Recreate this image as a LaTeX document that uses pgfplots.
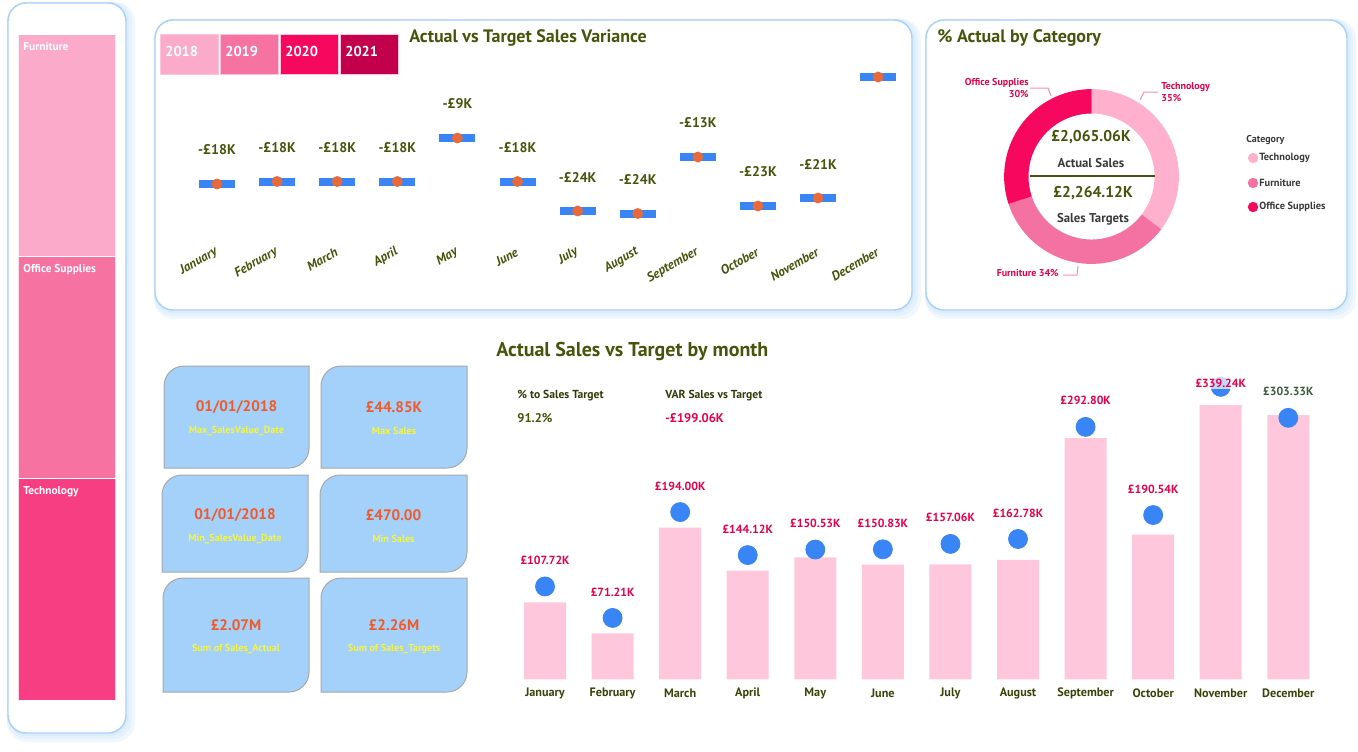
\documentclass[border=0pt]{standalone}
\usepackage{pgfplots}
\pgfplotsset{compat=1.18}
\usepackage{pgfplotstable}
\usepackage{fontspec}
\setmainfont{PT Sans}

\definecolor{olive}{HTML}{46550B}
\definecolor{crim}{HTML}{E6004C}
\definecolor{barpink}{HTML}{FFC7DB}
\definecolor{dotblue}{HTML}{3A85F5}
\definecolor{dotorange}{HTML}{E8693A}
\definecolor{cardblue}{HTML}{A3D1FA}
\definecolor{cardborder}{HTML}{A8A8A8}
\definecolor{cardval}{HTML}{F05A28}
\definecolor{cardlab}{HTML}{F7F53A}
\definecolor{panelb}{HTML}{A6D2F8}
\definecolor{glow}{HTML}{D6E9FB}
\definecolor{pA}{HTML}{FBAAC9}
\definecolor{pB}{HTML}{F672A0}
\definecolor{pC}{HTML}{F5085E}
\definecolor{pD}{HTML}{C2004B}
\definecolor{tmF}{HTML}{FBAACA}
\definecolor{tmO}{HTML}{F672A0}
\definecolor{tmT}{HTML}{F73E82}
\definecolor{dTech}{HTML}{FFB0CD}
\definecolor{dFurn}{HTML}{F472A2}
\definecolor{dOff}{HTML}{F5085E}
\definecolor{leader}{HTML}{F48FB1}
\definecolor{darkteal}{HTML}{3C5A3C}
\definecolor{graytxt}{HTML}{3A3A3A}

\newcommand\fs[1]{\fontsize{#1}{#1}\selectfont}
\newcommand\dRo{43.7pt}
\newcommand\dRi{31.5pt}

% Variance (K) = actual - target, per month
\pgfplotstableread{
x var
0 -18.4
1 -17.9
2 -17.9
3 -17.9
4 -9.2
5 -17.9
6 -23.8
7 -24.3
8 -13.0
9 -22.8
10 -21.2
11 3.0
}\vardata
\pgfplotstableread{
x var lab
0 -18.4 -£18K
1 -17.9 -£18K
2 -17.9 -£18K
3 -17.9 -£18K
4 -9.2 -£9K
5 -17.9 -£18K
6 -23.8 -£24K
7 -24.3 -£24K
8 -13.0 -£13K
9 -22.8 -£23K
10 -21.2 -£21K
}\varlab
% Monthly actual and target (K)
\pgfplotstableread{
x actual target laby lab
0 89.32 107.72 137.9 £107.72K
1 53.31 71.21 101.4 £71.21K
2 176.10 194.00 224.2 £194.00K
3 126.22 144.12 174.3 £144.12K
4 141.33 150.53 180.7 £150.53K
5 132.93 150.83 181.0 £150.83K
6 133.26 157.06 187.3 £157.06K
7 138.48 162.78 193.0 £162.78K
8 279.80 292.80 323.0 £292.80K
9 167.74 190.54 220.7 £190.54K
10 318.04 339.24 343.4 £339.24K
11 306.33 303.33 334.0 £303.33K
}\monthly

\newcommand\panel[4]{%
  \foreach \s/\o in {9/0.35,6/0.4,3/0.5}{%
    \fill[glow,opacity=\o,rounded corners=10pt] (#1-1,#2-1) rectangle (#3+\s,#4+\s);}
  \filldraw[fill=white,draw=panelb,line width=0.7pt,rounded corners=9pt] (#1,#2) rectangle (#3,#4);}
\newcommand\card[4]{%
  \filldraw[fill=cardblue,draw=cardborder,line width=0.5pt]
    (#1,#4) -- (#1,#2+20) arc[start angle=180,end angle=90,radius=10pt]
    -- (#3,#2) -- (#3,#4-20) arc[start angle=0,end angle=-90,radius=10pt] -- cycle;}

\begin{document}
\begin{tikzpicture}
\begin{scope}[x=0.5pt,y=-0.5pt]
\useasboundingbox (0,0) rectangle (1358,751);
\fill[white] (0,0) rectangle (1358,751);
\panel{8}{3}{126}{733}
\panel{155}{20}{912}{310}
\panel{926}{20}{1347}{310}
% year slicer
\foreach \i/\c/\y in {0/pA/2018,1/pB/2019,2/pC/2020,3/pD/2021}{%
  \filldraw[fill=\c,draw=pA!70,line width=0.5pt] (160+60*\i,34) rectangle (218+60*\i,74);
  \node[anchor=west,text=white,font=\bfseries\fs{7.2},inner sep=0pt] at (165+60*\i,51) {\y};}
% KPI cards
\card{164}{366}{309}{468}
\card{321}{366}{467}{468}
\card{162}{475}{308}{572}
\card{320}{475}{467}{572}
\card{163}{578}{309}{692}
\card{321}{578}{467}{692}
\end{scope}

% ---------- Actual vs Target Sales Variance ----------
\begin{axis}[at={(90.45pt,-115pt)},anchor=south west,scale only axis,
  width=363.65pt,height=85pt,xmin=-0.6,xmax=11.5,ymin=-27.6,ymax=6.4,
  axis line style={draw=none},tick style={draw=none},ytick=\empty,
  xtick={0,...,11},
  xticklabels={January,February,March,April,May,June,July,August,September,October,November,December},
  xticklabel style={rotate=30,anchor=east,xshift=-2pt,yshift=-9pt,
    font=\bfseries\itshape\fs{6.5},text=olive},
  clip=false]
\addplot[only marks,mark=-,mark size=9pt,color=dotblue,mark options={line width=4pt,draw=dotblue}]
  table[x=x,y=var]{\vardata};
\addplot[only marks,mark=*,mark size=2.5pt,color=dotorange,mark options={fill=dotorange,draw=dotorange}]
  table[x=x,y=var]{\vardata};
\addplot[draw=none,mark=none,nodes near coords,point meta=explicit symbolic,
  every node near coord/.append style={anchor=center,yshift=17pt,
    font=\bfseries\fs{7},text=olive}]
  table[x=x,y=var,meta=lab]{\varlab};
\end{axis}

% ---------- Treemap ----------
\begin{axis}[at={(9.15pt,-350.5pt)},anchor=south west,scale only axis,
  width=48.7pt,height=333.3pt,xmin=-0.5,xmax=0.5,ymin=0,ymax=3,hide axis,
  ybar stacked,bar width=48.7pt]
\addplot[fill=tmT,draw=white,line width=0.6pt] coordinates {(0,1)};
\addplot[fill=tmO,draw=white,line width=0.6pt] coordinates {(0,1)};
\addplot[fill=tmF,draw=white,line width=0.6pt] coordinates {(0,1)};
\end{axis}

% ---------- Donut ----------
\begin{axis}[at={(502.05pt,-131.95pt)},anchor=south west,scale only axis,
  width=87.4pt,height=87.4pt,xmin=-1,xmax=1,ymin=-1,ymax=1,hide axis,clip=false]
\addplot[draw=none] coordinates {(0,0)};
% Technology 35.3%, Furniture 34.6%, Office Supplies 30.1%
\fill[dTech,shift={(axis cs:0,0)}] (90:\dRo) arc[start angle=90,end angle=-37.08,radius=\dRo]
  -- (-37.08:\dRi) arc[start angle=-37.08,end angle=90,radius=\dRi] -- cycle;
\fill[dFurn,shift={(axis cs:0,0)}] (-37.08:\dRo) arc[start angle=-37.08,end angle=-161.64,radius=\dRo]
  -- (-161.64:\dRi) arc[start angle=-161.64,end angle=-37.08,radius=\dRi] -- cycle;
\fill[dOff,shift={(axis cs:0,0)}] (-161.64:\dRo) arc[start angle=-161.64,end angle=-270,radius=\dRo]
  -- (-270:\dRi) arc[start angle=-270,end angle=-161.64,radius=\dRi] -- cycle;
\end{axis}

% ---------- Actual Sales vs Target by month ----------
\begin{axis}[at={(250.55pt,-339.65pt)},anchor=south west,scale only axis,
  width=415.55pt,height=149.65pt,xmin=-0.65,xmax=11.65,ymin=0,ymax=347.2,
  axis line style={draw=none},tick style={draw=none},ytick=\empty,
  xtick={0,...,11},
  xticklabels={January,February,March,April,May,June,July,August,September,October,November,December},
  xticklabel style={anchor=center,yshift=-6.9pt,font=\bfseries\fs{6.1},text=olive!80!black},
  clip=false]
\addplot[ybar,bar width=21pt,fill=barpink,draw=none] table[x=x,y=actual]{\monthly};
\addplot[only marks,mark=*,mark size=4.75pt,color=dotblue,mark options={fill=dotblue,draw=dotblue}]
  table[x=x,y=target]{\monthly};
\addplot[draw=none,mark=none,restrict x to domain=0:10,nodes near coords,point meta=explicit symbolic,
  every node near coord/.append style={anchor=center,inner sep=0.8pt,fill=white,fill opacity=0.7,
    text opacity=1,font=\bfseries\fs{5.9},text=crim}]
  table[x=x,y=laby,meta=lab]{\monthly};
\addplot[draw=none,mark=none,restrict x to domain=11:11,nodes near coords,point meta=explicit symbolic,
  every node near coord/.append style={anchor=center,font=\bfseries\fs{5.9},text=darkteal}]
  table[x=x,y=laby,meta=lab]{\monthly};
\end{axis}

\begin{scope}[x=0.5pt,y=-0.5pt]
% titles
\node[anchor=west,inner sep=0pt,text=olive,font=\bfseries\fs{9}] at (409,38) {Actual vs Target Sales Variance};
\node[anchor=west,inner sep=0pt,text=olive,font=\bfseries\fs{9}] at (937,38) {\% Actual by Category};
\node[anchor=west,inner sep=0pt,text=olive,font=\bfseries\fs{10}] at (496,351) {Actual Sales vs Target by month};
% treemap labels
\node[anchor=west,inner sep=0pt,text=white,font=\bfseries\fs{5.7}] at (23,47) {Furniture};
\node[anchor=west,inner sep=0pt,text=white,font=\bfseries\fs{5.7}] at (23,270) {Office Supplies};
\node[anchor=west,inner sep=0pt,text=white,font=\bfseries\fs{5.7}] at (23,492) {Technology};
% KPI texts
\node[anchor=west,inner sep=0pt,text=olive!70!black,font=\bfseries\fs{5.8}] at (517,396) {\% to Sales Target};
\node[anchor=west,inner sep=0pt,text=olive,font=\bfseries\fs{6.3}] at (517,418) {91.2\%};
\node[anchor=west,inner sep=0pt,text=olive!70!black,font=\bfseries\fs{5.8}] at (665,396) {VAR Sales vs Target};
\node[anchor=west,inner sep=0pt,text=crim,font=\bfseries\fs{6.3}] at (665,418) {-£199.06K};
% card texts
\foreach \x/\y/\v/\l in {236.5/407/01\slash 01\slash 2018/Max\_SalesValue\_Date,
  394/407/£44.85K/Max Sales,
  235/515/01\slash 01\slash 2018/Min\_SalesValue\_Date,
  393.5/515/£470.00/Min Sales,
  236/625/£2.07M/Sum of Sales\_Actual,
  394/625/£2.26M/Sum of Sales\_Targets}{%
  \node[inner sep=0pt,text=cardval,font=\bfseries\fs{7.6}] at (\x,\y) {\v};
  \node[inner sep=0pt,text=cardlab,font=\bfseries\fs{5.1}] at (\x,\y+24) {\l};}
% donut centre
\node[inner sep=0pt,text=olive,font=\bfseries\fs{7.8}] at (1091,137) {£2,065.06K};
\node[inner sep=0pt,text=graytxt,font=\bfseries\fs{6.4}] at (1091,163) {Actual Sales};
\draw[olive,line width=1pt] (1030,176) -- (1155,176);
\node[inner sep=0pt,text=olive,font=\bfseries\fs{7.8}] at (1093,193) {£2,264.12K};
\node[inner sep=0pt,text=graytxt,font=\bfseries\fs{6.4}] at (1093,219) {Sales Targets};
% donut labels
\node[anchor=east,inner sep=0pt,text=crim,font=\bfseries\fs{5}] at (1029,83) {Office Supplies};
\node[anchor=east,inner sep=0pt,text=crim,font=\bfseries\fs{5}] at (1029,94) {30\%};
\draw[leader,line width=0.5pt] (1030,88) -- (1048,88) -- (1051,96);
\node[anchor=west,inner sep=0pt,text=crim,font=\bfseries\fs{5}] at (1161,87) {Technology};
\node[anchor=west,inner sep=0pt,text=crim,font=\bfseries\fs{5}] at (1161,98) {35\%};
\draw[leader,line width=0.5pt] (1140,100) -- (1144,92) -- (1158,92);
\node[anchor=east,inner sep=0pt,text=crim,font=\bfseries\fs{5}] at (1059,273) {Furniture 34\%};
\draw[leader,line width=0.5pt] (1063,275) -- (1077,275) -- (1078,266);
% legend
\node[anchor=west,inner sep=0pt,text=graytxt,font=\bfseries\fs{5}] at (1246,140) {Category};
\foreach \y/\c/\t in {158/dTech/Technology,183/dFurn/Furniture,207/dOff/Office Supplies}{%
  \fill[\c] (1253,\y) circle[radius=2.6pt];
  \node[anchor=west,inner sep=0pt,text=graytxt,font=\bfseries\fs{5.2}] at (1259,\y) {\t};}
\end{scope}
\end{tikzpicture}
\end{document}
